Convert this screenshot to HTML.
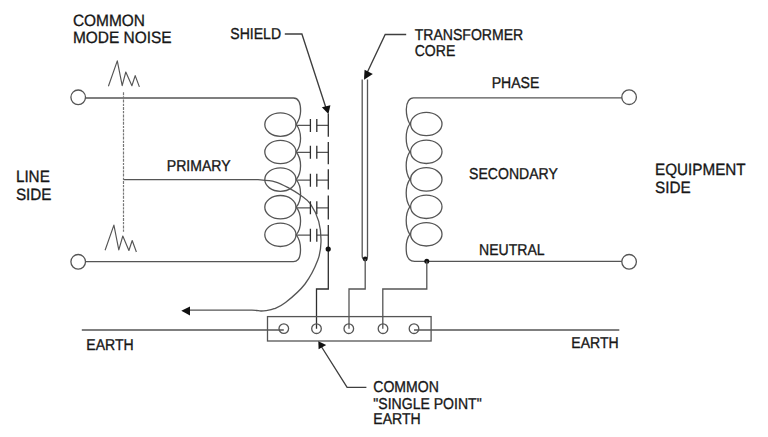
<!DOCTYPE html>
<html><head><meta charset="utf-8"><style>
html,body{margin:0;padding:0;background:#fff;}
svg{display:block;}
text{font-family:"Liberation Sans",sans-serif;text-rendering:geometricPrecision;fill:#161616;stroke:#161616;stroke-width:0.3;}
</style></head><body>
<svg width="768" height="437" viewBox="0 0 768 437">
<g fill="none" stroke="#555555" stroke-width="1.3">
<circle cx="78.2" cy="97.3" r="7.3"/>
<circle cx="78.2" cy="261.8" r="7.3"/>
<circle cx="629.1" cy="97.2" r="7.3"/>
<circle cx="629.1" cy="261.8" r="7.3"/>
<path d="M85 98 L293.5 98 C299 98 300.6 104 300.6 111 C300.6 116 298.5 121 296.2 124.6 C302 131.6 302 145.0 296.2 152.0 C302 159.0 302 172.6 296.2 179.6 C302 186.6 302 200.2 296.2 207.2 C302 214.2 302 227.8 296.2 234.8 C299.5 238.8 300.6 244 300.5 250 C300.5 258 298 261.6 293.4 261.6 L85 261.6"/>
<ellipse cx="280.4" cy="124.6" rx="15.6" ry="11.7"/><ellipse cx="280.4" cy="152.0" rx="15.6" ry="11.7"/><ellipse cx="280.4" cy="179.6" rx="15.6" ry="11.7"/><ellipse cx="280.4" cy="207.2" rx="15.6" ry="11.7"/><ellipse cx="280.4" cy="234.8" rx="15.6" ry="11.7"/>
<path d="M123.5 179.7 L258 179.7 C262.17 180.05 269.77 180.37 275.00 181.80 C280.23 183.23 285.07 186.02 289.40 188.30 C293.73 190.58 297.50 192.90 301.00 195.50 C304.50 198.10 307.45 199.60 310.40 203.90 C313.35 208.20 316.93 214.95 318.70 221.30 C320.47 227.65 321.15 235.53 321.00 242.00 C320.85 248.47 320.47 253.10 317.80 260.10 C315.13 267.10 310.38 276.92 305.00 284.00 C299.62 291.08 290.65 298.48 285.50 302.60 C280.35 306.72 277.35 307.37 274.10 308.70 C270.85 310.03 268.18 310.22 266.00 310.60 C263.82 310.98 262.58 311.02 261.00 311.00 C259.42 310.98 258.00 310.63 256.50 310.50 C255.00 310.37 254.08 310.25 252.00 310.20 L189 310.2"/>
<polygon points="181.3,310.8 190,306.6 190,315.4" fill="#111" stroke="none"/>
<path stroke-width="1.15" stroke-linejoin="round" d="M108.4 86.2 L117.3 60.9 L122.2 85.7 L125.8 72 L131.9 85.7 L135.2 75.6 L139.4 86.9"/>
<path stroke-width="1.15" stroke-linejoin="round" d="M105.1 250.2 L113.9 225.1 L118.8 249.9 L122.8 236 L128.9 250.5 L132.2 240.5 L136.4 252"/>
<path d="M296.2 125.4 H310.4 M316.8 125.4 H328.3"/><path stroke="#2e2e2e" d="M310.4 118.9 V131.9 M316.8 118.9 V131.9"/><path d="M296.2 152.3 H310.4 M316.8 152.3 H328.3"/><path stroke="#2e2e2e" d="M310.4 145.8 V158.8 M316.8 145.8 V158.8"/><path d="M296.2 180.2 H310.4 M316.8 180.2 H328.3"/><path stroke="#2e2e2e" d="M310.4 173.7 V186.7 M316.8 173.7 V186.7"/><path d="M296.2 207.8 H310.4 M316.8 207.8 H328.3"/><path stroke="#2e2e2e" d="M310.4 201.3 V214.3 M316.8 201.3 V214.3"/><path d="M296.2 235.2 H310.4 M316.8 235.2 H328.3"/><path stroke="#2e2e2e" d="M310.4 228.7 V241.7 M316.8 228.7 V241.7"/>
<path stroke="#3e3e3e" stroke-width="1.35" d="M284.8 34 H301.9 L326 108"/>
<polygon points="321.9,107.3 330.4,105.3 328.4,113.9" fill="#111" stroke="none"/>
<path stroke="#2e2e2e" d="M328.3 113.6 V136.7 M328.3 141.9 V164.2 M328.3 169.3 V189.4 M328.3 195.4 V219.5 M328.3 224.9 V289 H316.5 V328.7"/>
<circle cx="328.2" cy="249" r="2.6" fill="#111" stroke="none"/>
<path d="M362.2 79.6 V256 Q362.2 259.5 365 259.5 Q367.5 259.5 367.5 256 V79.6"/>
<path stroke="#3e3e3e" stroke-width="1.35" d="M406.2 34.5 H385.2 L366.5 74"/>
<polygon points="364,79.8 364.6,69.8 372.8,74" fill="#111" stroke="none"/>
<circle cx="365.2" cy="259" r="2.4" fill="#111" stroke="none"/>
<path d="M365.2 259 V289 H349 V328.7"/>
<path d="M622 97.8 L413.5 97.8 C409.5 97.8 406.3 102 406.3 109.5 C406.3 115 407.5 120 409.8 124.0 C405 131.0 405 144.8 409.8 151.8 C405 158.8 405 172.4 409.8 179.4 C405 186.4 405 199.8 409.8 206.8 C405 213.8 405 227.3 409.8 234.3 C405.5 240 406 246 406.3 251 C406.6 257 409 261.3 414.6 261.3 L622 261.3"/>
<ellipse cx="426.3" cy="124.0" rx="15.7" ry="11.7"/><ellipse cx="426.3" cy="151.8" rx="15.7" ry="11.7"/><ellipse cx="426.3" cy="179.4" rx="15.7" ry="11.7"/><ellipse cx="426.3" cy="206.8" rx="15.7" ry="11.7"/><ellipse cx="426.3" cy="234.3" rx="15.7" ry="11.7"/>
<circle cx="426.8" cy="261.2" r="2.5" fill="#111" stroke="none"/>
<path d="M426.8 261.2 V289 H382.8 V328.7"/>
<rect x="267.5" y="316.6" width="163.6" height="24.4"/>
<circle cx="283.8" cy="328.6" r="4.8"/>
<circle cx="316.5" cy="328.7" r="4.8"/>
<circle cx="348.8" cy="328.7" r="4.8"/>
<circle cx="383" cy="328.7" r="4.8"/>
<circle cx="414" cy="328.7" r="4.8"/>
<path d="M81.8 330 H283.8 M414 330 H619.3"/>
<path stroke="#3e3e3e" stroke-width="1.35" d="M366.4 387.4 H347.1 L321 346"/>
<polygon points="318.3,341.3 318.6,349.2 326.2,345" fill="#111" stroke="none"/>
</g>
<path d="M123.5 92.2 V232" stroke="#777" stroke-width="1.2" stroke-dasharray="3 1.1 2.2 1.1" fill="none"/>
<text transform="translate(72.9 25.7) scale(1 1.07)" font-size="15.45">COMMON</text>
<text transform="translate(72.9 42.6) scale(1 1.07)" font-size="15.45">MODE NOISE</text>
<text transform="translate(15.9 181.6) scale(1 1.07)" font-size="15.25">LINE</text>
<text transform="translate(15.9 199.5) scale(1 1.07)" font-size="15.25">SIDE</text>
<text transform="translate(655.0 175.0) scale(1 1.07)" font-size="15.25">EQUIPMENT</text>
<text transform="translate(655.0 193.1) scale(1 1.07)" font-size="15.25">SIDE</text>
<text transform="translate(230.3 39.0) scale(1 1.12)" font-size="14.05">SHIELD</text>
<text transform="translate(414.7 39.8) scale(1 1.12)" font-size="14.05">TRANSFORMER</text>
<text transform="translate(414.7 55.5) scale(1 1.12)" font-size="14.05">CORE</text>
<text transform="translate(491.7 87.5) scale(1 1.12)" font-size="14.05">PHASE</text>
<text transform="translate(166.8 170.7) scale(1 1.12)" font-size="14.05">PRIMARY</text>
<text transform="translate(469.1 178.8) scale(1 1.12)" font-size="14.05">SECONDARY</text>
<text transform="translate(479.1 255.1) scale(1 1.12)" font-size="14.05">NEUTRAL</text>
<text transform="translate(86.3 349.6) scale(1 1.12)" font-size="14.05">EARTH</text>
<text transform="translate(571.3 348.4) scale(1 1.12)" font-size="14.05">EARTH</text>
<text transform="translate(373.3 392.3) scale(1 1.12)" font-size="14.05">COMMON</text>
<text transform="translate(373.3 409.1) scale(1 1.12)" font-size="14.05">"SINGLE POINT"</text>
<text transform="translate(373.3 424.0) scale(1 1.12)" font-size="14.05">EARTH</text>
</svg>
</body></html>
